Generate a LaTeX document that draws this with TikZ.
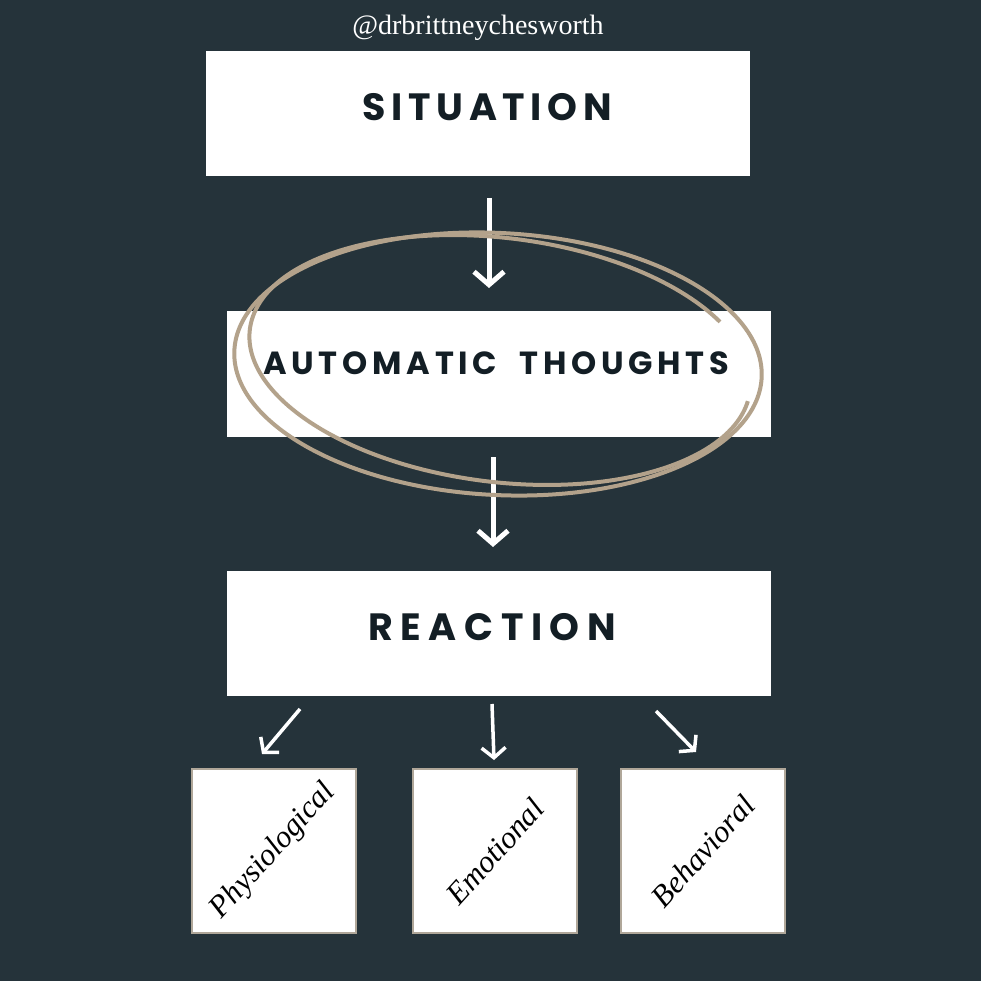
\documentclass[tikz,border=0pt]{standalone}
\usepackage{fontspec}
\usetikzlibrary{arrows.meta}
\setmainfont{Liberation Serif}
\newfontfamily\boxfont[LetterSpace=15]{Poppins}
\definecolor{bg}{HTML}{25333A}
\definecolor{ink}{HTML}{131E25}
\definecolor{tanline}{HTML}{B3A28B}
\definecolor{edgec}{HTML}{B0A799}
\tikzset{
  bigbox/.style={fill=white, draw=none, inner sep=0pt, minimum width=544pt, anchor=north west, text=ink, font=\boxfont\bfseries\fontsize{38}{40}\selectfont},
  smallbox/.style={fill=white, draw=edgec, line width=2pt, minimum width=164pt, minimum height=164pt, inner sep=0pt, font=\itshape\fontsize{31}{32}\selectfont, text=black},
  bigarrow/.style={draw=white, line width=5pt, -{Straight Barb[length=13pt,width=30pt,line width=5pt]}},
  smallarrow/.style={draw=white, line width=3.5pt, -{Straight Barb[length=10pt,width=24pt,line width=3.5pt]}},
  loopline/.style={draw=tanline, line width=4pt}
}
\begin{document}
\begin{tikzpicture}[x=1pt,y=-1pt]
\fill[bg] (0,0) rectangle (981,981);
\useasboundingbox (0,0) rectangle (981,981);

\node[text=white, font=\fontsize{28}{30}\selectfont] (handle) at (478,28) {@drbrittneychesworth};

\node[bigbox, text height=69.5pt, text depth=55.5pt] (sit) at (206,51) {\hspace*{18pt}SITUATION};
\node[bigbox, text height=63pt, text depth=63pt, font=\boxfont\bfseries\fontsize{32}{34}\selectfont] (auto) at (227,311) {AUTOMATIC\hspace{22pt}THOUGHTS\hspace*{6pt}};
\node[bigbox, text height=69pt, text depth=56pt] (react) at (227,571) {\addfontfeature{LetterSpace=20}REACTION\hspace*{14pt}};

\node[smallbox] (phys) at (273.5,851) {\rotatebox{48}{Physiological}};
\node[smallbox] (emo) at (495,851) {\rotatebox{48}{Emotional}};
\node[smallbox] (beh) at (703,851) {\rotatebox{48}{Behavioral}};

\coordinate (a1s) at (489,198); \coordinate (a1e) at (489,288);
\coordinate (a2s) at (493,457); \coordinate (a2e) at (493,547);
\coordinate (b1s) at (300,709); \coordinate (b1e) at (262,754);
\coordinate (b2s) at (492,704); \coordinate (b2e) at (494,760);
\coordinate (b3s) at (656,711); \coordinate (b3e) at (696,752);

\draw[bigarrow] (a1s) -- (a1e);
\draw[bigarrow] (a2s) -- (a2e);
\draw[smallarrow] (b1s) -- (b1e);
\draw[smallarrow] (b2s) -- (b2e);
\draw[smallarrow] (b3s) -- (b3e);

\draw[loopline, rotate around={-3:(498,364)}] (498,364) ellipse [x radius=264, y radius=131];
\draw[loopline, rotate around={-7:(500,360)}] (500,360) ++(5:252 and 122) arc [start angle=5, end angle=328, x radius=252, y radius=122];
\end{tikzpicture}
\end{document}
